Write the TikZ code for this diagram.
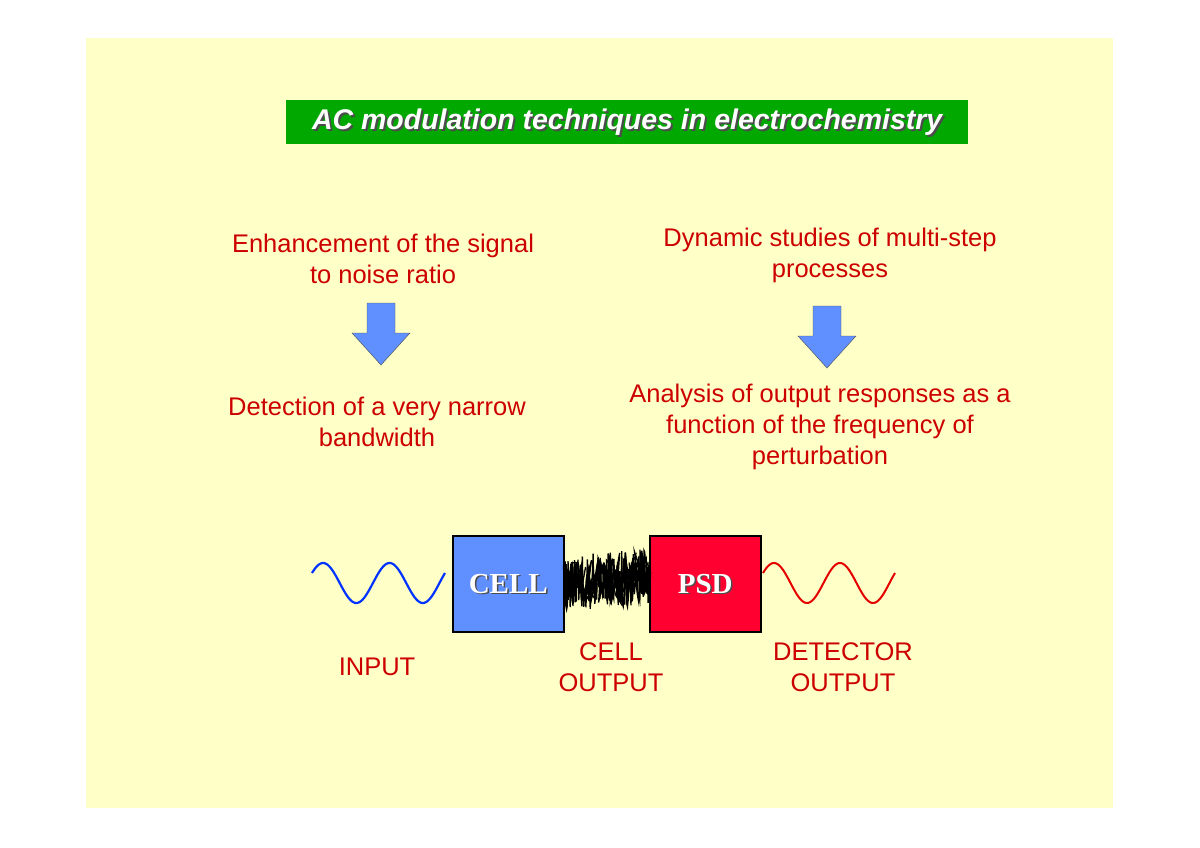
\documentclass[tikz,border=0pt]{standalone}
\usepackage{fontspec}
\setmainfont{Liberation Sans}
\newfontfamily\serifb{Liberation Serif}
\definecolor{bg}{HTML}{FFFFC8}
\definecolor{tgreen}{HTML}{00A800}
\definecolor{tred}{HTML}{CC0000}
\definecolor{cblue}{HTML}{6090FF}
\definecolor{pred}{HTML}{FF0030}
\begin{document}
\begin{tikzpicture}[x=1pt,y=-1pt,
  txt/.style={text=tred,font=\fontsize{25.5}{31}\selectfont,align=center},
  darrow/.style={draw=black!70,fill=cblue},
  box/.style={draw=black,line width=1.5pt,minimum width=111pt,minimum height=96pt,anchor=north west,inner sep=0pt}]
\useasboundingbox (0,0) rectangle (1200,848);
\fill[bg] (86,38) rectangle (1113,808);
\node[fill=tgreen,minimum width=682pt,minimum height=44pt,anchor=north west,inner sep=0pt] (title) at (286,100) {};
\node[text=black!70,font=\fontsize{28.5}{30}\selectfont\bfseries\itshape] at ([shift={(2,2)}]title.center) {AC modulation techniques in electrochemistry};
\node[text=white,font=\fontsize{28.5}{30}\selectfont\bfseries\itshape] (tt) at (title.center) {AC modulation techniques in electrochemistry};
\node[txt] (a1) at (383,259) {Enhancement of the signal\\to noise ratio};
\node[txt] (b1) at (830,255) {Dynamic studies of multi-step\\processes};
\foreach \cx/\ty in {381/303,827/306}{
 \draw[darrow] (\cx-14,\ty) -- (\cx+14,\ty) -- (\cx+14,\ty+30) -- (\cx+29,\ty+30) -- (\cx,\ty+62) -- (\cx-29,\ty+30) -- (\cx-14,\ty+30) -- cycle;}
\node[txt] (a2) at (377,422) {Detection of a very narrow\\bandwidth};
\node[txt] (b2) at (820,427) {Analysis of output responses as a\\function of the frequency of\\perturbation};
\node[box,fill=cblue] (cell) at (452,535) {};
\node[box,fill=pred] (psd) at (649,535) {};
\foreach \n/\t in {cell/CELL,psd/PSD}{
 \node[text=black!70,font=\fontsize{29}{30}\selectfont\serifb\bfseries] at ([shift={(1.5,1.5)}]\n.center) {\t};
 \node[text=white,font=\fontsize{29}{30}\selectfont\serifb\bfseries] at (\n.center) {\t};}
\draw[blue!80!cyan,line width=2.2pt,domain=0:720,samples=120,smooth] plot ({312+\x/720*133},{583-20*sin(\x+30)});
\draw[red!90!black,line width=2pt,domain=0:720,samples=120,smooth] plot ({763+\x/720*132},{583-20*sin(\x+30)});
\pgfmathsetseed{7}
\draw[black,line width=1.3pt] (cell.east)
 \foreach \i in {1,...,140}{ -- ({563+\i/140*86+rand*4},{583+rand*(18+12*\i/140)-8*\i/140}) } -- (psd.west);
\draw[black,line width=1.3pt] ([yshift=-8]cell.east)
 \foreach \i in {1,...,120}{ -- ({563+\i/120*86},{583+rand*28-6*\i/120}) } -- ([yshift=-10]psd.west);
\draw[black,line width=1.3pt] ([yshift=4]cell.east)
 \foreach \i in {1,...,100}{ -- ({563+\i/100*86},{585+rand*22}) } -- ([yshift=-4]psd.west);
\node[txt] (in) at (377,667) {INPUT};
\node[txt] (co) at (611,667) {CELL\\OUTPUT};
\node[txt] (do) at (843,667) {DETECTOR\\OUTPUT};
\end{tikzpicture}
\end{document}
